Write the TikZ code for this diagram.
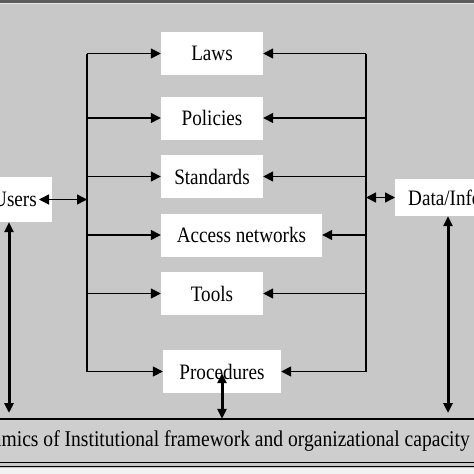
\documentclass[tikz,border=0pt]{standalone}
\usepackage{fontspec}
\usetikzlibrary{arrows.meta}
\newfontfamily\dfont[FakeStretch=0.87]{Liberation Serif}
\definecolor{bg}{RGB}{200,200,200}
\definecolor{bandbg}{RGB}{206,206,206}
\definecolor{topband}{RGB}{92,92,92}
\begin{document}
\begin{tikzpicture}[x=1pt,y=-1pt,
  box/.style={fill=white, inner sep=0pt, minimum height=43pt, minimum width=102pt, font=\dfont\fontsize{22}{24}\selectfont},
  sidebox/.style={fill=white, inner ysep=0pt, font=\dfont\fontsize{22}{24}\selectfont},
  thinline/.style={line width=1.5pt},
  arr/.style={thinline, -{Triangle[length=10pt,width=10pt]}},
  darr/.style={thinline, {Triangle[length=10pt,width=10pt]}-{Triangle[length=10pt,width=10pt]}},
  tarr/.style={line width=3pt, {Triangle[length=10pt,width=9pt]}-{Triangle[length=10pt,width=9pt]}}]
\useasboundingbox (0,0) rectangle (474,474);
\clip (0,0) rectangle (474,474);
\fill[bg] (0,0) rectangle (474,474);
\fill[topband] (0,0) rectangle (474,2.5);
\draw[white!80!gray, line width=0.8pt] (0,3) -- (474,3);

% bottom band
\node[fill=bandbg, minimum width=490pt, minimum height=43pt, inner sep=0pt] (band) at (237,440.5) {};
\draw[line width=1.5pt] (band.north west) -- (band.north east);
\draw[line width=1.2pt] (band.south west) -- (band.south east);
\draw[line width=1.2pt] ([yshift=-4.5pt]band.south west) -- ([yshift=-4.5pt]band.south east);
\fill[white!90!gray] ([yshift=-5.5pt]band.south west) rectangle (490,474);
\node[anchor=base east, inner sep=0pt, font=\dfont\fontsize{22.5}{24}\selectfont] (bandtext) at (470,446) {Dynamics of Institutional framework and organizational capacity};

% central boxes
\node[box] (laws) at (212,53.5) {Laws};
\node[box] (pol) at (212,118) {Policies};
\node[box] (std) at (212,176.5) {Standards};
\node[box, minimum width=161pt] (acc) at (241.5,235) {Access networks};
\node[box] (tools) at (212,293.5) {Tools};
\node[box, minimum width=118pt] (proc) at (222,371.5) {Procedures};

% side boxes
\node[sidebox, minimum height=45pt, anchor=east, inner xsep=15pt] (users) at (52,199.5) {Users};
\node[sidebox, minimum height=37pt, anchor=west, inner xsep=13pt] (data) at (395,197.5) {Data/Information};

% trunks
\coordinate (lx) at (87,0);
\coordinate (rx) at (366,0);
\draw[thinline] (laws.west -| lx) -- (proc.west -| lx);
\draw[thinline] (laws.east -| rx) -- (proc.east -| rx);
\foreach \n in {laws,pol,std,acc,tools,proc}{
  \draw[arr] (\n.west -| lx) -- (\n.west);
  \draw[arr] (\n.east -| rx) -- (\n.east);
}
\draw[darr] ([xshift=-13pt]users.east) -- (users.east -| lx);
\draw[darr] (data.west -| rx) -- (data.west);

% thick vertical arrows
\coordinate (ul) at (9,413);
\coordinate (dl) at (448,413);
\draw[tarr] (ul |- users.south) -- (ul);
\draw[tarr] (dl |- data.south) -- (dl);
\draw[tarr] ([yshift=20pt]proc.south) -- (proc.south |- band.north);
\end{tikzpicture}
\end{document}
